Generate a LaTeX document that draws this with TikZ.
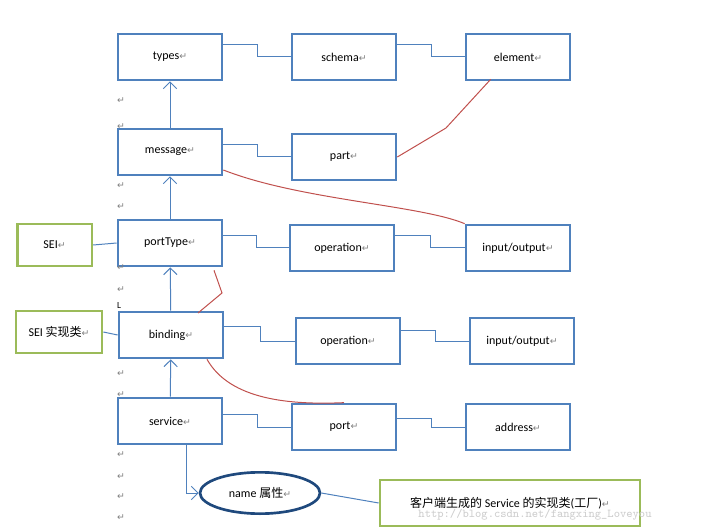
\documentclass[tikz,border=0pt]{standalone}
\usepackage{fontspec}
\setmainfont{Carlito}
\newfontfamily\cjk{Noto Sans CJK SC}
\newfontfamily\symb{DejaVu Sans}
\usetikzlibrary{shapes.geometric,arrows.meta}
\newcommand{\ret}{{\symb\scriptsize\color{gray}↵}}
\tikzset{every picture/.style={line width=0.75pt}}
\tikzset{
  blbox/.style={draw={rgb,255:red,79;green,129;blue,189},line width=2pt,minimum width=78pt,minimum height=34.5pt,inner sep=0pt,font=\small},
  grbox/.style={draw={rgb,255:red,155;green,187;blue,89},line width=2pt,inner sep=0pt,font=\small},
  link/.style={draw={rgb,255:red,79;green,129;blue,189},line width=0.75pt},
  uplink/.style={link,-{Straight Barb[length=5pt]}},
  redlink/.style={draw={rgb,255:red,192;green,80;blue,77},line width=0.75pt}
}
\begin{document}
\begin{tikzpicture}[x=0.75pt,y=0.75pt,yscale=-1,xscale=1]
	\useasboundingbox (0,0) rectangle (725,531);
	% boxes
	\node[blbox] (types) at (170,57) {types\ret};
	\node[blbox] (schema) at (344,57) {schema\ret};
	\node[blbox] (element) at (518,57) {element\ret};
	\node[blbox] (message) at (170,152) {message\ret};
	\node[blbox] (part) at (344,157) {part\ret};
	\node[blbox] (portType) at (170,243) {portType\ret};
	\node[blbox] (opA) at (342,248) {operation\ret};
	\node[blbox] (ioA) at (518,248) {input/output\ret};
	\node[blbox] (binding) at (171,335) {binding\ret};
	\node[blbox] (opB) at (348,341) {operation\ret};
	\node[blbox] (ioB) at (522,341) {input/output\ret};
	\node[blbox] (service) at (170,421) {service\ret};
	\node[blbox] (port) at (344,427) {port\ret};
	\node[blbox] (address) at (518,427) {address\ret};
	\node[grbox,minimum width=56pt,minimum height=31.5pt] (sei) at (54.5,245) {SEI\ret};
	\node[grbox,minimum width=64.5pt,minimum height=31.5pt] (seiImpl) at (59,332) {SEI {\cjk 实现类}\ret};
	\node[ellipse,draw={rgb,255:red,31;green,73;blue,125},line width=2pt,minimum width=90pt,minimum height=31pt,inner sep=0pt,font=\small] (name) at (260,493) {name {\cjk 属性}\ret};
	\node[grbox,minimum width=195pt,minimum height=34.5pt] (client) at (510,503) {{\cjk 客户端生成的} Service {\cjk 的实现类}({\cjk 工厂})\ret};
	% elbow connectors
	\draw[link] (types.east |- 0,45) -- (257,45) |- (schema.west);
	\draw[link] (schema.east |- 0,45) -- (431,45) |- (element.west);
	\draw[link] (message.east |- 0,145) -- (257,145) |- (part.west);
	\draw[link] (portType.east |- 0,236) -- (256,236) |- (opA.west);
	\draw[link] (opA.east |- 0,236) -- (430,236) |- (ioA.west);
	\draw[link] (binding.east |- 0,326) -- (260,326) |- (opB.west);
	\draw[link] (opB.east |- 0,330) -- (435,330) |- (ioB.west);
	\draw[link] (service.east |- 0,414) -- (257,414) |- (port.west);
	\draw[link] (port.east |- 0,418) -- (431,418) |- (address.west);
	% arrows upward
	\draw[uplink] (message) -- (types);
	\draw[uplink] (portType) -- (message);
	\draw[uplink] (binding) -- (portType);
	\draw[uplink] (service) -- (binding);
	\draw[uplink] (service.south -| 186,0) |- (name.west);
	% side links
	\draw[link] (sei.east) -- (portType.west);
	\draw[link] (seiImpl.east) -- (binding.west);
	\draw[link] (name.east) -- (client.west);
	% red links
	\coordinate (bendA) at (446,128);
	\coordinate (bendB) at (222,293);
	\coordinate (bindTop) at (198,313);
	\draw[redlink] (element.south west) ++(26,-2) -- (bendA) -- (part.east);
	\draw[redlink] (message.east) ++(0,18) .. controls (300,200) and (420,205) .. (ioA.north west);
	\draw[redlink] (portType.south) ++(44,3) -- (bendB) -- (bindTop);
	\draw[redlink] (binding.south) ++(36,0) .. controls (230,400) and (290,405) .. (port.north);
	% paragraph marks
	\foreach \y in {101,127,186,207,268,290,374,395,455,477,497,518}
		\node[inner sep=0pt] at (121,\y) {\ret};
	\node[inner sep=0pt] at (119,306) {\scriptsize L};
	% watermark
	\node[inner sep=0pt,text={rgb,255:red,205;green,205;blue,205},font=\ttfamily\small] (mark) at (535,515) {http://blog.csdn.net/fangxing\_Loveyou};
\end{tikzpicture}
\end{document}
